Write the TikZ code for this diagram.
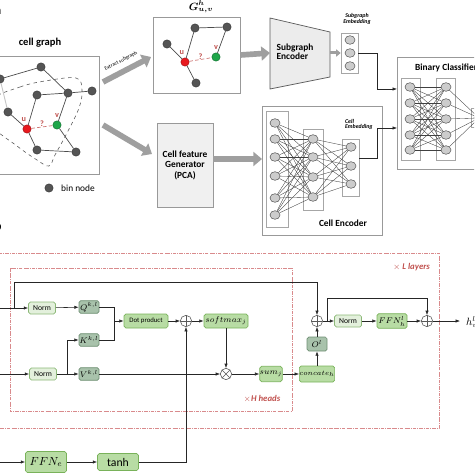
\documentclass[tikz,border=0pt]{standalone}
\usepackage{fontspec}
\setmainfont{Carlito}
\usepackage{bm}
\usetikzlibrary{arrows.meta,shapes.geometric,positioning,calc}

\definecolor{normfill}{HTML}{E3F0DC}
\definecolor{normline}{HTML}{8CB878}
\definecolor{opfill}{HTML}{B8DCA4}
\definecolor{opline}{HTML}{79B25A}
\definecolor{matfill}{HTML}{A8C2AB}
\definecolor{matline}{HTML}{6F8F73}
\definecolor{loopred}{HTML}{D98A8C}
\definecolor{labelred}{HTML}{C0504D}
\definecolor{bignode}{HTML}{555555}
\definecolor{unode}{HTML}{E8191E}
\definecolor{vnode}{HTML}{1FA64A}

\newcommand{\fsz}[1]{\fontsize{#1}{#1}\selectfont}

\tikzset{
  binnode/.style={circle,fill=bignode,draw=bignode!70!black,inner sep=0pt,minimum size=2.5mm},
  gedge/.style={gray!60!black,line width=0.6pt},
  redlab/.style={text=labelred,font=\bfseries\fsz{7},inner sep=0.5pt},
  fatarrow/.style={gray!75,line width=1.7mm,-{Triangle[length=2.6mm,width=4.2mm]}},
  titletxt/.style={font=\bfseries\fsz{8}},
  tinytxt/.style={font=\bfseries\itshape\fsz{5}},
  layerbox/.style={draw=gray!70,fill=white,line width=0.5pt,inner sep=0pt},
  neuron/.style={ellipse,fill=gray!40,draw=gray!60!black,line width=0.4pt,inner sep=0pt,minimum width=3mm,minimum height=2.6mm},
  synapse/.style={black!75,line width=0.3pt},
  normbox/.style={draw=normline,fill=normfill,rounded corners=1.5pt,line width=0.6pt,inner sep=0pt,font=\fsz{6.5},minimum width=8.1mm,minimum height=3.6mm},
  opbox/.style={draw=opline,fill=opfill,rounded corners=1.5pt,line width=0.6pt,inner sep=0pt,font=\fsz{6.5}},
  matbox/.style={draw=matline,fill=matfill,rounded corners=1.5pt,line width=0.6pt,inner sep=0pt,font=\fsz{7},minimum width=6mm,minimum height=3.8mm},
  opnode/.style={circle,draw=gray!70!black,fill=white,minimum size=3.4mm,inner sep=0pt,line width=0.5pt},
  plusop/.style={opnode,path picture={\draw[gray!70!black,line width=0.4pt] (path picture bounding box.north) -- (path picture bounding box.south) (path picture bounding box.west) -- (path picture bounding box.east);}},
  timesop/.style={opnode,path picture={\draw[gray!70!black,line width=0.4pt] (path picture bounding box.north west) -- (path picture bounding box.south east) (path picture bounding box.north east) -- (path picture bounding box.south west);}},
  wire/.style={black!85,line width=0.5pt},
  arr/.style={wire,-{Latex[length=1.3mm,width=1mm]}},
  loopbox/.style={loopred,line width=0.5pt,densely dash dot},
  looplab/.style={text=labelred,font=\bfseries\itshape\fsz{7.5}}
}

\begin{document}
\begin{tikzpicture}[x=0.3mm,y=-0.3mm]
\clip (0,0) rectangle (474,474);

% panel letters
\node[font=\bfseries\fsz{11}] (panela) at (-2,11) {a};
\node[font=\bfseries\fsz{11}] (panelb) at (-2,226) {b};

% ---- cell graph ----
\node[font=\bfseries\fsz{9}] (cgtitle) at (40,43) {cell graph};
\draw[gray!80,line width=0.6pt] (-5,56) rectangle (99,174);
\draw[gray!70!black,dashed,line width=0.5pt] plot[smooth cycle,tension=0.6] coordinates
  {(-8,100) (20,87) (45,81) (76,78) (82,90) (79,108) (67,133) (55,155) (49,166) (37,160) (17,146) (-8,125)};

\node[binnode] (ga) at (41,67) {};
\node[binnode] (gb) at (0,79) {};
\node[binnode] (gc) at (92,91) {};
\node[binnode] (gd) at (68,93) {};
\node[binnode] (ge) at (37,95) {};
\node[binnode] (gf) at (8,112) {};
\node[binnode,fill=unode,draw=unode!70!black] (gu) at (27,129) {};
\node[binnode,fill=vnode,draw=vnode!70!black] (gv) at (57,125) {};
\node[binnode] (gg) at (37,150) {};
\node[binnode] (gh) at (76,152) {};
\draw[gedge] (ga) -- (gb) (ga) -- (gd) (gd) -- (gc) (ge) -- (gd) (ge) -- (gu) (gf) -- (gu)
  (gu) -- (gg) (gg) -- (gh) (gv) -- (gh) (gd) -- (gv);
\draw[gray!45,line width=0.8pt] (gb) -- (gf);
\draw[labelred!80,densely dashed,line width=0.6pt] (gu) -- node[redlab,above=-0.5pt] {?} (gv);
\node[redlab,above left=1.2mm and -0.9mm of gu] (gulab) {u};
\node[redlab,above=0.6mm of gv] (gvlab) {v};

% legend
\node[binnode] (legnode) at (49,188) {};
\node[font=\fsz{8},right=1.1mm of legnode] (legtxt) {bin node};

% ---- arrows out of cell graph ----
\coordinate (exfrom) at (103,82);
\coordinate (exto) at (151,57);
\draw[fatarrow] (exfrom) -- (exto);
\node[font=\fsz{4.5},rotate=27] (extxt) at (121,61) {Extract subgraph};
\coordinate (pcfrom) at (103,125);
\coordinate (pcto) at (152,154);
\draw[fatarrow] (pcfrom) -- (pcto);

% ---- subgraph G ----
\node[draw=gray!80,line width=0.6pt,minimum width=26.1mm,minimum height=22.8mm] (gbox) at (196.5,55) {};
\node[font=\fsz{9}] (gtitle) at (201,7) {$\bm{G^{h}_{u,v}}$};
\node[binnode] (sa) at (195,28) {};
\node[binnode] (sb) at (227,27) {};
\node[binnode] (sc) at (167,44) {};
\node[binnode,fill=unode,draw=unode!70!black] (su) at (185,62) {};
\node[binnode,fill=vnode,draw=vnode!70!black] (sv) at (216,57) {};
\node[binnode] (sd) at (196,83) {};
\draw[gedge] (sa) -- (sb) (sb) -- (sv) (sa) -- (su) (sc) -- (su) (su) -- (sd);
\draw[labelred!80,densely dashed,line width=0.6pt] (su) -- node[redlab,above=-0.5pt] {?} (sv);
\node[redlab,above left=1.2mm and -0.9mm of su] (sulab) {u};
\node[redlab,above=0.6mm of sv] (svlab) {v};

% ---- PCA ----
\node[draw=gray!80,fill=gray!12,line width=0.6pt,minimum width=16.8mm,minimum height=25.2mm,
  align=center,font=\bfseries\fsz{8}] (pca) at (185,165) {Cell feature\\[1pt]Generator\\[1pt](PCA)};

% ---- subgraph encoder ----
\coordinate (encin) at (270,53);
\draw[gray!70!black,fill=gray!15,line width=0.6pt] (270,18) -- (330,32) -- (330,77) -- (270,89) -- cycle;
\node[titletxt,align=left] (enctxt) at (295,52) {Subgraph\\Encoder};
\draw[fatarrow] (gbox.east) -- (encin);
\node[layerbox,minimum width=5.1mm,minimum height=12mm] (sgemb) at (349.5,53) {};
\coordinate (encout) at (330,53);
\draw[gray!75,line width=0.9mm,-{Triangle[length=1.4mm,width=2.2mm]}] (encout) -- (sgemb.west);
\foreach \y [count=\i] in {40,53,66}
  \node[neuron] (sg\i) at (350,\y) {};
\node[tinytxt,align=center] (sgembtxt) at (357,19) {Subgraph\\Embedding};

% ---- cell encoder ----
\draw[gray!80,line width=0.6pt] (262,106) rectangle (382,235);
\node[titletxt] (celltitle) at (343,223) {Cell Encoder};
\draw[fatarrow] (pca.east |- 0,159) -- (262,159);
\node[layerbox,minimum width=6.6mm,minimum height=34.8mm] (eabox) at (277,169) {};
\node[layerbox,minimum width=6mm,minimum height=24.3mm] (ebbox) at (313,169.5) {};
\node[layerbox,minimum width=5.1mm,minimum height=17.1mm] (ecbox) at (350.5,167.5) {};
\foreach \y [count=\i] in {123,139,157,176,198,215}
  \node[neuron] (ea\i) at (275,\y) {};
\foreach \y [count=\i] in {139,157,177,197}
  \node[neuron] (eb\i) at (313,\y) {};
\foreach \y [count=\i] in {147,166,184}
  \node[neuron] (ec\i) at (351,\y) {};
\foreach \i in {1,...,6}
  \foreach \j in {1,...,4}
    \draw[synapse] (ea\i) -- (eb\j);
\foreach \i in {1,...,4}
  \foreach \j in {1,...,3}
    \draw[synapse] (eb\i) -- (ec\j);
\node[tinytxt,anchor=west,align=left] (cembtxt) at (341,124.5) {Cell\\Embedding};

% ---- binary classifier ----
\draw[gray!80,line width=0.6pt] (397,57) rectangle (495,169);
\node[titletxt,anchor=west] (bctitle) at (411,68) {Binary Classifier};
\node[layerbox,minimum width=5.7mm,minimum height=24.6mm] (babox) at (410.5,119) {};
\node[layerbox,minimum width=5.7mm,minimum height=24.6mm] (bbbox) at (445.5,119) {};
\node[layerbox,minimum width=4.8mm,minimum height=5.7mm] (outbox) at (479,117.5) {};
\foreach \y [count=\i] in {87,103,119,135,150}
  \node[neuron] (ba\i) at (410,\y) {};
\foreach \y [count=\i] in {87,103,119,135,150}
  \node[neuron] (bb\i) at (446,\y) {};
\node[neuron] (bout) at (479,118) {};
\foreach \i in {1,...,5}
  \foreach \j in {1,...,5}
    \draw[synapse] (ba\i) -- (bb\j);
\foreach \i in {1,...,5}
  \draw[synapse] (bb\i) -- (bout);
\node[titletxt,anchor=west] (outtxt) at (471,99) {M};

% embeddings into classifier
\coordinate (bcina) at (397,89);
\coordinate (bcinb) at (397,128);
\draw[arr] (sgemb.east) -| ($(sgemb.east)!0.5!(bcina)$) |- (bcina);
\draw[arr] ($(ecbox.east)+(0,-9.5)$) -| (377,128) -- (bcinb);

% ---- attention layer ----
\draw[loopbox] (-5,253) rectangle (439,428);
\draw[loopbox] (10,268) rectangle (292,411);
\node[looplab,anchor=east] (llab) at (434,267) {$\times$ L layers};
\node[looplab] (hlab) at (262,399) {$\times$H heads};

\node[normbox] (norma) at (42,308) {Norm};
\node[normbox] (normb) at (43,374) {Norm};
\node[matbox] (qm) at (89,307) {$Q^{k,l}$};
\node[matbox] (km) at (89,340) {$K^{k,l}$};
\node[matbox] (vm) at (89,374) {$V^{k,l}$};
\node[opbox,font=\fsz{5.8},minimum width=13.2mm,minimum height=4.2mm] (dot) at (146,321) {Dot product};
\node[plusop] (plusa) at (186,321) {};
\node[opbox,font=\fsz{7.5},minimum width=13.2mm,minimum height=4.2mm] (soft) at (226,321) {$softmax_j$};
\node[timesop] (times) at (226,374) {};
\node[opbox,font=\fsz{7},minimum width=6.6mm,minimum height=4.6mm] (sum) at (271,374) {$sum_j$};
\node[opbox,font=\fsz{6.5},minimum width=9mm,minimum height=4.8mm] (concat) at (317,374) {$concate_h$};
\node[matbox,minimum height=4.2mm] (om) at (317,344) {$O^{l}$};
\node[plusop] (plusb) at (317,321) {};
\node[normbox] (normc) at (348,321) {Norm};
\node[opbox,font=\fsz{7},minimum width=9mm,minimum height=4.4mm] (ffnh) at (392,321) {$FFN_h^{l}$};
\node[plusop] (plusc) at (427,321) {};
\node[font=\fsz{9},anchor=west] (hout) at (462,322) {$h_u^{l}$};
\node[opbox,font=\fsz{10},minimum width=12.3mm,minimum height=6.3mm] (ffne) at (46,462) {$FFN_e$};
\node[opbox,font=\fsz{10},minimum width=12.3mm,minimum height=5.1mm] (tanh) at (118,462) {tanh};

\coordinate (inq) at (0,308);
\coordinate (inv) at (0,374);
\coordinate (ine) at (0,462);
\coordinate (skipa) at (14,308);
\coordinate (skipatop) at (14,282);
\coordinate (vsplit) at (67,374);
\coordinate (qkjoin) at (114,321);
\coordinate (skipb) at (327,321);
\coordinate (skipbtop) at (327,298);
\coordinate (outend) at (460,321);

\draw[arr] (inq) -- (norma);
\draw[arr] (inv) -- (normb);
\draw[arr] (ine) -- (ffne);
\draw[arr] (skipa) -- (skipatop) -| (plusb);
\draw[arr] (norma) -- (qm);
\draw[arr] (normb) -- (vm);
\draw[arr] (vsplit) |- (km);
\draw[wire] (qm) -| (qkjoin);
\draw[wire] (km) -| (qkjoin);
\draw[arr] (qkjoin) -- (dot);
\draw[arr] (dot) -- (plusa);
\draw[arr] (plusa) -- (soft);
\draw[arr] (ffne) -- (tanh);
\draw[arr] (tanh) -| (plusa);
\draw[arr] (soft) -- (times);
\draw[arr] (vm) -- (times);
\draw[arr] (times) -- (sum);
\draw[arr] (sum) -- (concat);
\draw[arr] (concat) -- (om);
\draw[arr] (om) -- (plusb);
\draw[arr] (plusb) -- (normc);
\draw[arr] (skipb) -- (skipbtop) -| (plusc);
\draw[arr] (normc) -- (ffnh);
\draw[arr] (ffnh) -- (plusc);
\draw[arr] (plusc) -- (outend);
\end{tikzpicture}
\end{document}
